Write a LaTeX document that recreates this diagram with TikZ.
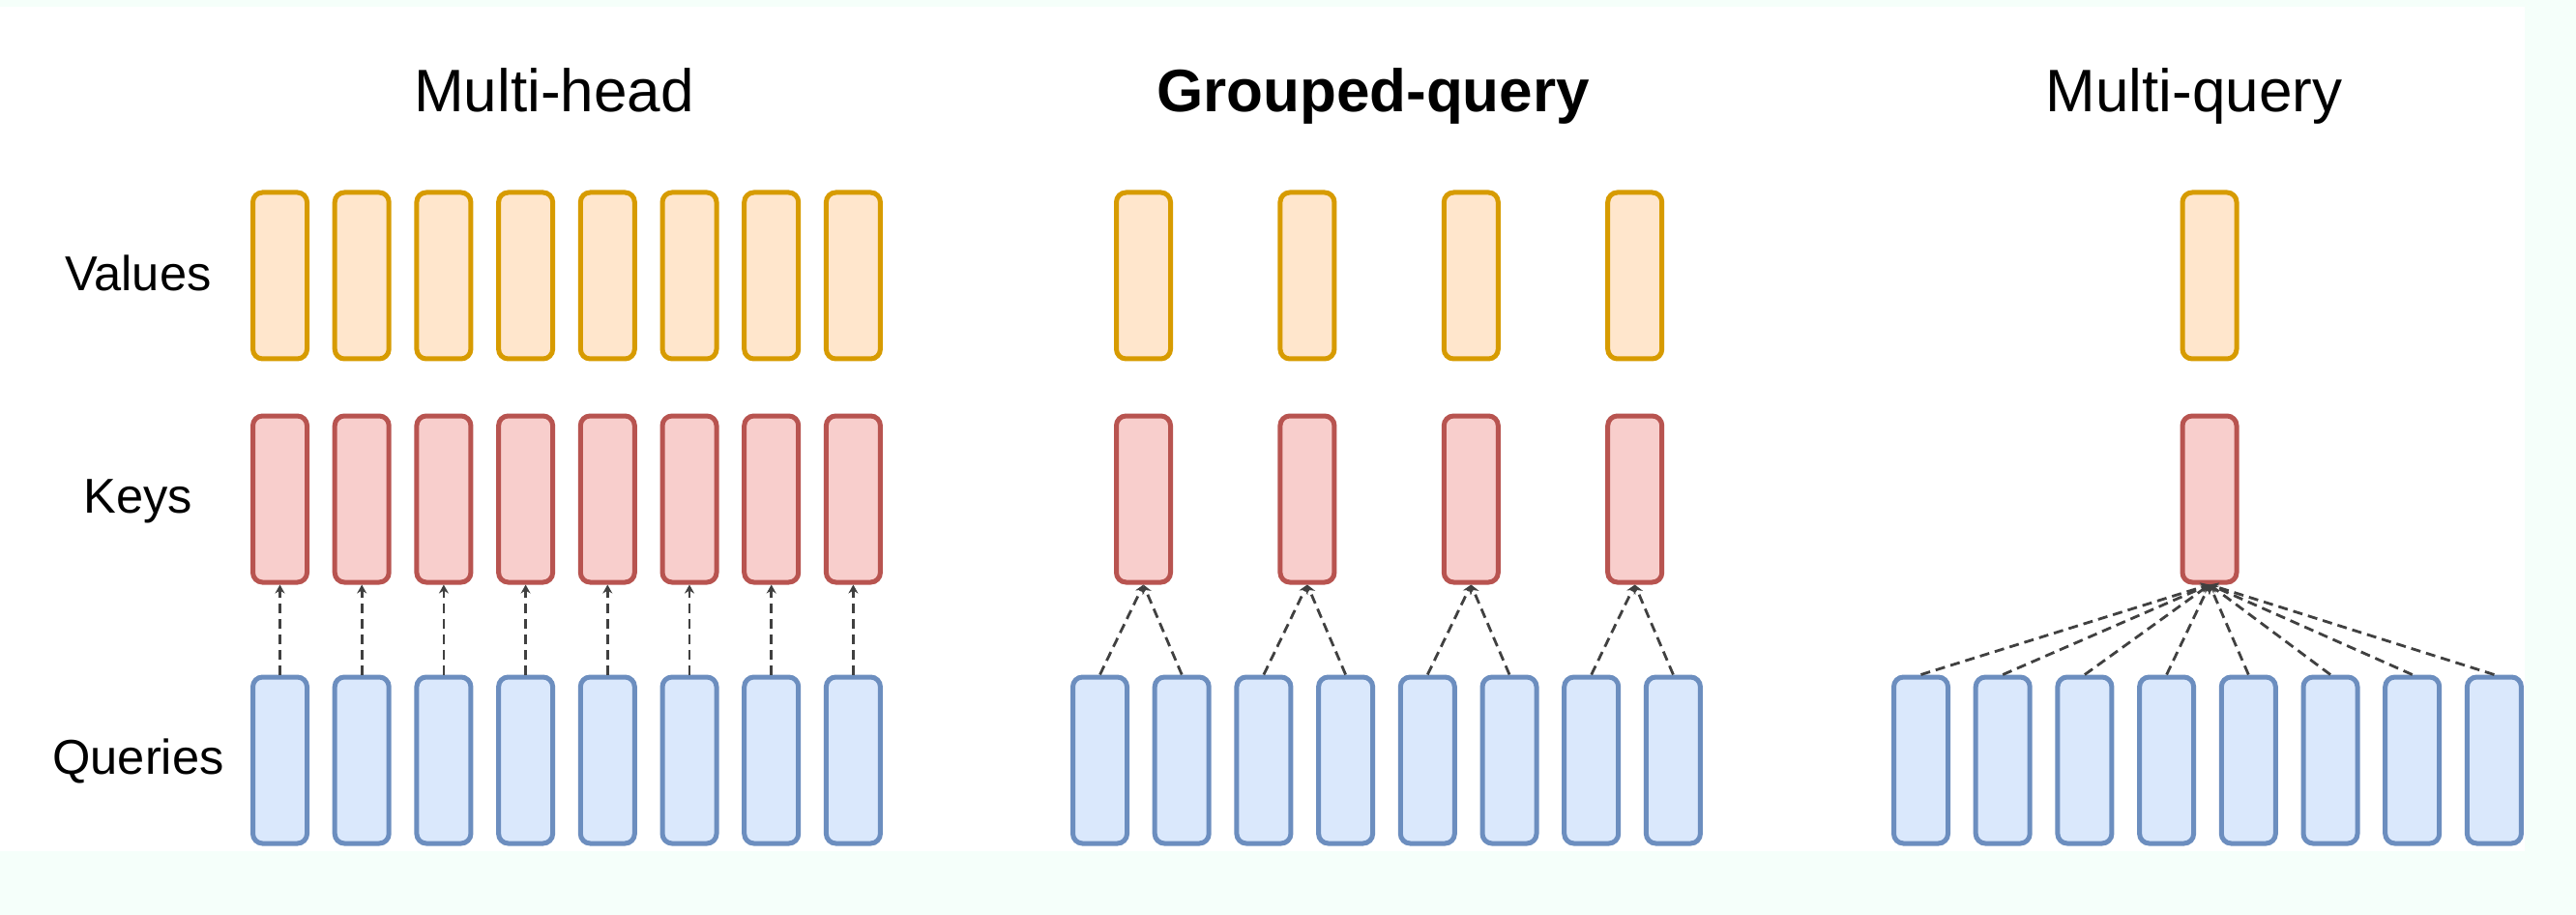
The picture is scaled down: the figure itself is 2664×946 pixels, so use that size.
\documentclass[tikz,border=0pt]{standalone}
\usepackage{fontspec}
\setmainfont{Liberation Sans}
\usetikzlibrary{arrows.meta}
\definecolor{mintbg}{HTML}{F5FFFA}
\definecolor{valfill}{HTML}{FFE6CC}
\definecolor{valline}{HTML}{D79B00}
\definecolor{keyfill}{HTML}{F8CECC}
\definecolor{keyline}{HTML}{B85450}
\definecolor{qryfill}{HTML}{DAE8FC}
\definecolor{qryline}{HTML}{6C8EBF}
\definecolor{linkgray}{HTML}{404040}
\begin{document}
\begin{tikzpicture}[x=0.5pt,y=-0.5pt,
  cell/.style={draw, rounded corners=5pt, line width=2.5pt, minimum width=28pt, minimum height=86pt, inner sep=0pt},
  valbox/.style={cell, draw=valline, fill=valfill},
  keybox/.style={cell, draw=keyline, fill=keyfill},
  qrybox/.style={cell, draw=qryline, fill=qryfill},
  link/.style={draw=linkgray, line width=1.4pt, dash pattern=on 5pt off 3pt, -{Stealth[length=4.5pt,width=5pt]}},
  lbl/.style={font=\fontsize{25.3}{30}\selectfont, anchor=base, inner sep=0pt},
  ttl/.style={font=\fontsize{31}{36}\selectfont, anchor=base, inner sep=0pt}]
\useasboundingbox (0,0) rectangle (2664,946);
\fill[mintbg] (0,0) rectangle (2664,946);
\fill[white] (0,7) rectangle (2611,880);

% titles
\node[ttl] (t1) at (573,116) {Multi-head};
\node[ttl] (t2) at (1420,116) {\bfseries Grouped-query};
\node[ttl] (t3) at (2269,116) {Multi-query};

% row labels
\node[lbl] (lv) at (143,301) {Values};
\node[lbl] (lk) at (143,530) {Keys};
\node[lbl] (lq) at (143,800) {Queries};

% multi-head
\foreach \k in {0,...,7} {
  \node[valbox] (mhv\k) at ({289.5+84.7*\k},285) {};
  \node[keybox] (mhk\k) at ({289.5+84.7*\k},516) {};
  \node[qrybox] (mhq\k) at ({289.5+84.7*\k},786) {};
  \draw[link] (mhq\k.north) -- (mhk\k.south);
}

% grouped-query
\foreach \j in {0,...,3} {
  \node[valbox] (gqv\j) at ({1182.5+169.4*\j},285) {};
  \node[keybox] (gqk\j) at ({1182.5+169.4*\j},516) {};
}
\foreach \k/\j in {0/0,1/0,2/1,3/1,4/2,5/2,6/3,7/3} {
  \node[qrybox] (gqq\k) at ({1137.5+84.7*\k},786) {};
  \draw[link] (gqq\k.north) -- (gqk\j.south);
}

% multi-query
\node[valbox] (mqv) at (2285,285) {};
\node[keybox] (mqk) at (2285,516) {};
\foreach \k in {0,...,7} {
  \node[qrybox] (mqq\k) at ({1986.5+84.7*\k},786) {};
  \draw[link] (mqq\k.north) -- (mqk.south);
}
\end{tikzpicture}
\end{document}
